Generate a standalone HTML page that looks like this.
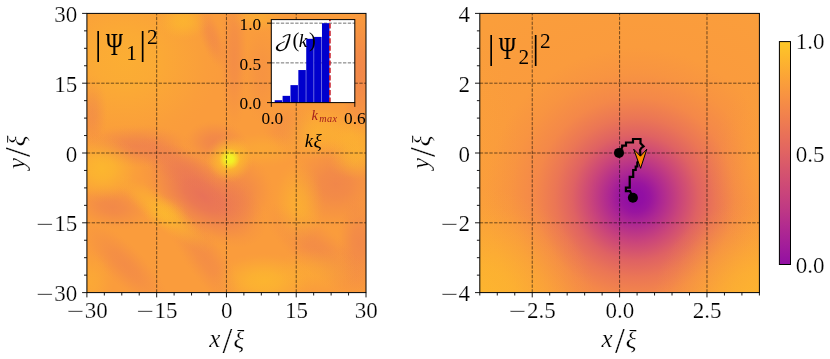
<!DOCTYPE html>
<html><head><meta charset="utf-8"><title>figure</title>
<style>html,body{margin:0;padding:0;background:#fff;overflow:hidden}svg{display:block}</style></head>
<body>
<svg width="830" height="359" viewBox="0 0 830 359">
<defs><clipPath id="cl"><rect x="86.9" y="13.4" width="279.10" height="279.20"/></clipPath><clipPath id="cr"><rect x="479.8" y="13.4" width="279.60" height="279.20"/></clipPath><radialGradient id="g1"><stop offset="0" stop-color="#e56a5d" stop-opacity="0.850"/><stop offset="0.3" stop-color="#e56a5d" stop-opacity="0.697"/><stop offset="0.6" stop-color="#e56a5d" stop-opacity="0.357"/><stop offset="0.85" stop-color="#e56a5d" stop-opacity="0.085"/><stop offset="1" stop-color="#e56a5d" stop-opacity="0.000"/></radialGradient><radialGradient id="g2"><stop offset="0" stop-color="#e56a5d" stop-opacity="0.340"/><stop offset="0.3" stop-color="#e56a5d" stop-opacity="0.279"/><stop offset="0.6" stop-color="#e56a5d" stop-opacity="0.143"/><stop offset="0.85" stop-color="#e56a5d" stop-opacity="0.034"/><stop offset="1" stop-color="#e56a5d" stop-opacity="0.000"/></radialGradient><radialGradient id="g3"><stop offset="0" stop-color="#e56a5d" stop-opacity="0.360"/><stop offset="0.3" stop-color="#e56a5d" stop-opacity="0.295"/><stop offset="0.6" stop-color="#e56a5d" stop-opacity="0.151"/><stop offset="0.85" stop-color="#e56a5d" stop-opacity="0.036"/><stop offset="1" stop-color="#e56a5d" stop-opacity="0.000"/></radialGradient><radialGradient id="g4"><stop offset="0" stop-color="#e56a5d" stop-opacity="0.420"/><stop offset="0.3" stop-color="#e56a5d" stop-opacity="0.344"/><stop offset="0.6" stop-color="#e56a5d" stop-opacity="0.176"/><stop offset="0.85" stop-color="#e56a5d" stop-opacity="0.042"/><stop offset="1" stop-color="#e56a5d" stop-opacity="0.000"/></radialGradient><radialGradient id="g5"><stop offset="0" stop-color="#e56a5d" stop-opacity="0.380"/><stop offset="0.3" stop-color="#e56a5d" stop-opacity="0.312"/><stop offset="0.6" stop-color="#e56a5d" stop-opacity="0.160"/><stop offset="0.85" stop-color="#e56a5d" stop-opacity="0.038"/><stop offset="1" stop-color="#e56a5d" stop-opacity="0.000"/></radialGradient><radialGradient id="g6"><stop offset="0" stop-color="#e56a5d" stop-opacity="0.380"/><stop offset="0.3" stop-color="#e56a5d" stop-opacity="0.312"/><stop offset="0.6" stop-color="#e56a5d" stop-opacity="0.160"/><stop offset="0.85" stop-color="#e56a5d" stop-opacity="0.038"/><stop offset="1" stop-color="#e56a5d" stop-opacity="0.000"/></radialGradient><radialGradient id="g7"><stop offset="0" stop-color="#e56a5d" stop-opacity="0.300"/><stop offset="0.3" stop-color="#e56a5d" stop-opacity="0.246"/><stop offset="0.6" stop-color="#e56a5d" stop-opacity="0.126"/><stop offset="0.85" stop-color="#e56a5d" stop-opacity="0.030"/><stop offset="1" stop-color="#e56a5d" stop-opacity="0.000"/></radialGradient><radialGradient id="g8"><stop offset="0" stop-color="#e56a5d" stop-opacity="0.280"/><stop offset="0.3" stop-color="#e56a5d" stop-opacity="0.230"/><stop offset="0.6" stop-color="#e56a5d" stop-opacity="0.118"/><stop offset="0.85" stop-color="#e56a5d" stop-opacity="0.028"/><stop offset="1" stop-color="#e56a5d" stop-opacity="0.000"/></radialGradient><radialGradient id="g9"><stop offset="0" stop-color="#e56a5d" stop-opacity="0.320"/><stop offset="0.3" stop-color="#e56a5d" stop-opacity="0.262"/><stop offset="0.6" stop-color="#e56a5d" stop-opacity="0.134"/><stop offset="0.85" stop-color="#e56a5d" stop-opacity="0.032"/><stop offset="1" stop-color="#e56a5d" stop-opacity="0.000"/></radialGradient><radialGradient id="g10"><stop offset="0" stop-color="#e56a5d" stop-opacity="0.300"/><stop offset="0.3" stop-color="#e56a5d" stop-opacity="0.246"/><stop offset="0.6" stop-color="#e56a5d" stop-opacity="0.126"/><stop offset="0.85" stop-color="#e56a5d" stop-opacity="0.030"/><stop offset="1" stop-color="#e56a5d" stop-opacity="0.000"/></radialGradient><radialGradient id="g11"><stop offset="0" stop-color="#e56a5d" stop-opacity="0.300"/><stop offset="0.3" stop-color="#e56a5d" stop-opacity="0.246"/><stop offset="0.6" stop-color="#e56a5d" stop-opacity="0.126"/><stop offset="0.85" stop-color="#e56a5d" stop-opacity="0.030"/><stop offset="1" stop-color="#e56a5d" stop-opacity="0.000"/></radialGradient><radialGradient id="g12"><stop offset="0" stop-color="#e56a5d" stop-opacity="0.380"/><stop offset="0.3" stop-color="#e56a5d" stop-opacity="0.312"/><stop offset="0.6" stop-color="#e56a5d" stop-opacity="0.160"/><stop offset="0.85" stop-color="#e56a5d" stop-opacity="0.038"/><stop offset="1" stop-color="#e56a5d" stop-opacity="0.000"/></radialGradient><radialGradient id="g13"><stop offset="0" stop-color="#e56a5d" stop-opacity="0.470"/><stop offset="0.3" stop-color="#e56a5d" stop-opacity="0.385"/><stop offset="0.6" stop-color="#e56a5d" stop-opacity="0.197"/><stop offset="0.85" stop-color="#e56a5d" stop-opacity="0.047"/><stop offset="1" stop-color="#e56a5d" stop-opacity="0.000"/></radialGradient><radialGradient id="g14"><stop offset="0" stop-color="#e56a5d" stop-opacity="0.420"/><stop offset="0.3" stop-color="#e56a5d" stop-opacity="0.344"/><stop offset="0.6" stop-color="#e56a5d" stop-opacity="0.176"/><stop offset="0.85" stop-color="#e56a5d" stop-opacity="0.042"/><stop offset="1" stop-color="#e56a5d" stop-opacity="0.000"/></radialGradient><radialGradient id="g15"><stop offset="0" stop-color="#e56a5d" stop-opacity="0.420"/><stop offset="0.3" stop-color="#e56a5d" stop-opacity="0.344"/><stop offset="0.6" stop-color="#e56a5d" stop-opacity="0.176"/><stop offset="0.85" stop-color="#e56a5d" stop-opacity="0.042"/><stop offset="1" stop-color="#e56a5d" stop-opacity="0.000"/></radialGradient><radialGradient id="g16"><stop offset="0" stop-color="#e56a5d" stop-opacity="0.260"/><stop offset="0.3" stop-color="#e56a5d" stop-opacity="0.213"/><stop offset="0.6" stop-color="#e56a5d" stop-opacity="0.109"/><stop offset="0.85" stop-color="#e56a5d" stop-opacity="0.026"/><stop offset="1" stop-color="#e56a5d" stop-opacity="0.000"/></radialGradient><radialGradient id="g17"><stop offset="0" stop-color="#e56a5d" stop-opacity="0.170"/><stop offset="0.3" stop-color="#e56a5d" stop-opacity="0.139"/><stop offset="0.6" stop-color="#e56a5d" stop-opacity="0.071"/><stop offset="0.85" stop-color="#e56a5d" stop-opacity="0.017"/><stop offset="1" stop-color="#e56a5d" stop-opacity="0.000"/></radialGradient><radialGradient id="g18"><stop offset="0" stop-color="#fdc229" stop-opacity="0.690"/><stop offset="0.3" stop-color="#fdc229" stop-opacity="0.566"/><stop offset="0.6" stop-color="#fdc229" stop-opacity="0.290"/><stop offset="0.85" stop-color="#fdc229" stop-opacity="0.069"/><stop offset="1" stop-color="#fdc229" stop-opacity="0.000"/></radialGradient><radialGradient id="g19"><stop offset="0" stop-color="#fdc229" stop-opacity="0.550"/><stop offset="0.3" stop-color="#fdc229" stop-opacity="0.451"/><stop offset="0.6" stop-color="#fdc229" stop-opacity="0.231"/><stop offset="0.85" stop-color="#fdc229" stop-opacity="0.055"/><stop offset="1" stop-color="#fdc229" stop-opacity="0.000"/></radialGradient><radialGradient id="g20"><stop offset="0" stop-color="#fdc229" stop-opacity="0.280"/><stop offset="0.3" stop-color="#fdc229" stop-opacity="0.230"/><stop offset="0.6" stop-color="#fdc229" stop-opacity="0.118"/><stop offset="0.85" stop-color="#fdc229" stop-opacity="0.028"/><stop offset="1" stop-color="#fdc229" stop-opacity="0.000"/></radialGradient><radialGradient id="g21"><stop offset="0" stop-color="#fdc229" stop-opacity="0.460"/><stop offset="0.3" stop-color="#fdc229" stop-opacity="0.377"/><stop offset="0.6" stop-color="#fdc229" stop-opacity="0.193"/><stop offset="0.85" stop-color="#fdc229" stop-opacity="0.046"/><stop offset="1" stop-color="#fdc229" stop-opacity="0.000"/></radialGradient><radialGradient id="g22"><stop offset="0" stop-color="#fdc229" stop-opacity="0.410"/><stop offset="0.3" stop-color="#fdc229" stop-opacity="0.336"/><stop offset="0.6" stop-color="#fdc229" stop-opacity="0.172"/><stop offset="0.85" stop-color="#fdc229" stop-opacity="0.041"/><stop offset="1" stop-color="#fdc229" stop-opacity="0.000"/></radialGradient><radialGradient id="g23"><stop offset="0" stop-color="#fdc229" stop-opacity="0.640"/><stop offset="0.3" stop-color="#fdc229" stop-opacity="0.525"/><stop offset="0.6" stop-color="#fdc229" stop-opacity="0.269"/><stop offset="0.85" stop-color="#fdc229" stop-opacity="0.064"/><stop offset="1" stop-color="#fdc229" stop-opacity="0.000"/></radialGradient><radialGradient id="g24"><stop offset="0" stop-color="#fdc229" stop-opacity="0.280"/><stop offset="0.3" stop-color="#fdc229" stop-opacity="0.230"/><stop offset="0.6" stop-color="#fdc229" stop-opacity="0.118"/><stop offset="0.85" stop-color="#fdc229" stop-opacity="0.028"/><stop offset="1" stop-color="#fdc229" stop-opacity="0.000"/></radialGradient><radialGradient id="g25"><stop offset="0" stop-color="#fdc229" stop-opacity="0.320"/><stop offset="0.3" stop-color="#fdc229" stop-opacity="0.262"/><stop offset="0.6" stop-color="#fdc229" stop-opacity="0.134"/><stop offset="0.85" stop-color="#fdc229" stop-opacity="0.032"/><stop offset="1" stop-color="#fdc229" stop-opacity="0.000"/></radialGradient><radialGradient id="g26"><stop offset="0" stop-color="#fdc229" stop-opacity="0.460"/><stop offset="0.3" stop-color="#fdc229" stop-opacity="0.377"/><stop offset="0.6" stop-color="#fdc229" stop-opacity="0.193"/><stop offset="0.85" stop-color="#fdc229" stop-opacity="0.046"/><stop offset="1" stop-color="#fdc229" stop-opacity="0.000"/></radialGradient><radialGradient id="g27"><stop offset="0" stop-color="#fdc229" stop-opacity="0.550"/><stop offset="0.3" stop-color="#fdc229" stop-opacity="0.451"/><stop offset="0.6" stop-color="#fdc229" stop-opacity="0.231"/><stop offset="0.85" stop-color="#fdc229" stop-opacity="0.055"/><stop offset="1" stop-color="#fdc229" stop-opacity="0.000"/></radialGradient><radialGradient id="g28"><stop offset="0" stop-color="#fdc229" stop-opacity="0.460"/><stop offset="0.3" stop-color="#fdc229" stop-opacity="0.377"/><stop offset="0.6" stop-color="#fdc229" stop-opacity="0.193"/><stop offset="0.85" stop-color="#fdc229" stop-opacity="0.046"/><stop offset="1" stop-color="#fdc229" stop-opacity="0.000"/></radialGradient><radialGradient id="g29"><stop offset="0" stop-color="#fdc229" stop-opacity="0.460"/><stop offset="0.3" stop-color="#fdc229" stop-opacity="0.377"/><stop offset="0.6" stop-color="#fdc229" stop-opacity="0.193"/><stop offset="0.85" stop-color="#fdc229" stop-opacity="0.046"/><stop offset="1" stop-color="#fdc229" stop-opacity="0.000"/></radialGradient><radialGradient id="g30"><stop offset="0" stop-color="#fdc229" stop-opacity="0.370"/><stop offset="0.3" stop-color="#fdc229" stop-opacity="0.303"/><stop offset="0.6" stop-color="#fdc229" stop-opacity="0.155"/><stop offset="0.85" stop-color="#fdc229" stop-opacity="0.037"/><stop offset="1" stop-color="#fdc229" stop-opacity="0.000"/></radialGradient><radialGradient id="g31"><stop offset="0" stop-color="#fdc229" stop-opacity="0.280"/><stop offset="0.3" stop-color="#fdc229" stop-opacity="0.230"/><stop offset="0.6" stop-color="#fdc229" stop-opacity="0.118"/><stop offset="0.85" stop-color="#fdc229" stop-opacity="0.028"/><stop offset="1" stop-color="#fdc229" stop-opacity="0.000"/></radialGradient><radialGradient id="g32"><stop offset="0" stop-color="#fdc627" stop-opacity="0.900"/><stop offset="0.3" stop-color="#fdc627" stop-opacity="0.738"/><stop offset="0.6" stop-color="#fdc627" stop-opacity="0.378"/><stop offset="0.85" stop-color="#fdc627" stop-opacity="0.090"/><stop offset="1" stop-color="#fdc627" stop-opacity="0.000"/></radialGradient><radialGradient id="g33"><stop offset="0" stop-color="#f1f426" stop-opacity="1.000"/><stop offset="0.35" stop-color="#f1f426" stop-opacity="0.920"/><stop offset="0.7" stop-color="#f1f426" stop-opacity="0.400"/><stop offset="1" stop-color="#f1f426" stop-opacity="0.000"/></radialGradient><radialGradient id="vort" gradientUnits="userSpaceOnUse" cx="635.3" cy="197.5" r="230.0"><stop offset="0.0000" stop-color="#8f0da4"/><stop offset="0.0348" stop-color="#920fa3"/><stop offset="0.0652" stop-color="#99159f"/><stop offset="0.1130" stop-color="#ad2793"/><stop offset="0.1957" stop-color="#ca457a"/><stop offset="0.2739" stop-color="#df6263"/><stop offset="0.3478" stop-color="#eb7655"/><stop offset="0.4348" stop-color="#f48849"/><stop offset="0.5435" stop-color="#f89441"/><stop offset="0.6522" stop-color="#fa9b3d"/><stop offset="1.0000" stop-color="#fa9e3b"/></radialGradient><radialGradient id="g34"><stop offset="0" stop-color="#febe2a" stop-opacity="0.750"/><stop offset="0.3" stop-color="#febe2a" stop-opacity="0.615"/><stop offset="0.6" stop-color="#febe2a" stop-opacity="0.315"/><stop offset="0.85" stop-color="#febe2a" stop-opacity="0.075"/><stop offset="1" stop-color="#febe2a" stop-opacity="0.000"/></radialGradient><radialGradient id="g35"><stop offset="0" stop-color="#febe2a" stop-opacity="0.700"/><stop offset="0.3" stop-color="#febe2a" stop-opacity="0.574"/><stop offset="0.6" stop-color="#febe2a" stop-opacity="0.294"/><stop offset="0.85" stop-color="#febe2a" stop-opacity="0.070"/><stop offset="1" stop-color="#febe2a" stop-opacity="0.000"/></radialGradient><radialGradient id="g36"><stop offset="0" stop-color="#fdae32" stop-opacity="0.400"/><stop offset="0.3" stop-color="#fdae32" stop-opacity="0.328"/><stop offset="0.6" stop-color="#fdae32" stop-opacity="0.168"/><stop offset="0.85" stop-color="#fdae32" stop-opacity="0.040"/><stop offset="1" stop-color="#fdae32" stop-opacity="0.000"/></radialGradient><radialGradient id="g37"><stop offset="0" stop-color="#fca636" stop-opacity="0.300"/><stop offset="0.3" stop-color="#fca636" stop-opacity="0.246"/><stop offset="0.6" stop-color="#fca636" stop-opacity="0.126"/><stop offset="0.85" stop-color="#fca636" stop-opacity="0.030"/><stop offset="1" stop-color="#fca636" stop-opacity="0.000"/></radialGradient><linearGradient id="cb" x1="0" y1="0" x2="0" y2="1"><stop offset="0.000" stop-color="#fdc827"/><stop offset="0.083" stop-color="#fdb52e"/><stop offset="0.167" stop-color="#fba238"/><stop offset="0.250" stop-color="#f79143"/><stop offset="0.333" stop-color="#f1814d"/><stop offset="0.417" stop-color="#e97158"/><stop offset="0.500" stop-color="#e06363"/><stop offset="0.583" stop-color="#d5546e"/><stop offset="0.667" stop-color="#cb4679"/><stop offset="0.750" stop-color="#bf3984"/><stop offset="0.833" stop-color="#b12a90"/><stop offset="0.917" stop-color="#a21d9a"/><stop offset="1.000" stop-color="#920fa3"/></linearGradient></defs>
<rect width="830" height="359" fill="#fff"/>
<g font-family="'Liberation Serif',serif" fill="#000">
<g clip-path="url(#cl)">
<rect x="86.9" y="13.4" width="279.10" height="279.20" fill="#fa9c3c"/>
<ellipse cx="203.0" cy="196.0" rx="72.0" ry="38.0" fill="url(#g1)" transform="rotate(35 203.0 196.0)"/>
<ellipse cx="176.0" cy="163.0" rx="44.0" ry="20.0" fill="url(#g2)" transform="rotate(25 176.0 163.0)"/>
<ellipse cx="242.0" cy="192.0" rx="32.0" ry="36.0" fill="url(#g3)"/>
<ellipse cx="335.6" cy="184.0" rx="48.0" ry="44.0" fill="url(#g4)"/>
<ellipse cx="359.0" cy="243.0" rx="22.0" ry="48.0" fill="url(#g5)"/>
<ellipse cx="112.0" cy="207.0" rx="40.0" ry="22.0" fill="url(#g6)" transform="rotate(10 112.0 207.0)"/>
<ellipse cx="125.0" cy="265.0" rx="60.0" ry="20.0" fill="url(#g7)" transform="rotate(45 125.0 265.0)"/>
<ellipse cx="205.0" cy="258.0" rx="64.0" ry="20.0" fill="url(#g8)" transform="rotate(55 205.0 258.0)"/>
<ellipse cx="320.0" cy="252.0" rx="72.0" ry="24.0" fill="url(#g9)" transform="rotate(40 320.0 252.0)"/>
<ellipse cx="212.0" cy="38.0" rx="12.0" ry="34.0" fill="url(#g10)" transform="rotate(-20 212.0 38.0)"/>
<ellipse cx="234.0" cy="56.0" rx="14.0" ry="76.0" fill="url(#g11)"/>
<ellipse cx="92.0" cy="110.0" rx="16.0" ry="36.0" fill="url(#g12)"/>
<ellipse cx="137.0" cy="146.0" rx="56.0" ry="22.0" fill="url(#g13)"/>
<ellipse cx="215.0" cy="142.0" rx="32.0" ry="22.0" fill="url(#g14)"/>
<ellipse cx="360.0" cy="72.0" rx="20.0" ry="68.0" fill="url(#g15)"/>
<ellipse cx="290.0" cy="128.0" rx="28.0" ry="24.0" fill="url(#g16)"/>
<ellipse cx="262.0" cy="75.0" rx="20.0" ry="50.0" fill="url(#g17)"/>
<ellipse cx="101.6" cy="168.6" rx="40.0" ry="34.0" fill="url(#g18)"/>
<ellipse cx="165.0" cy="214.0" rx="60.0" ry="16.0" fill="url(#g19)" transform="rotate(38 165.0 214.0)"/>
<ellipse cx="166.0" cy="213.0" rx="24.0" ry="18.0" fill="url(#g20)"/>
<ellipse cx="298.6" cy="203.7" rx="26.0" ry="44.0" fill="url(#g21)"/>
<ellipse cx="355.0" cy="161.0" rx="28.0" ry="20.0" fill="url(#g22)"/>
<ellipse cx="264.0" cy="281.0" rx="52.0" ry="28.0" fill="url(#g23)"/>
<ellipse cx="320.0" cy="270.0" rx="44.0" ry="24.0" fill="url(#g24)"/>
<ellipse cx="90.0" cy="282.0" rx="24.0" ry="32.0" fill="url(#g25)"/>
<ellipse cx="125.0" cy="60.0" rx="96.0" ry="88.0" fill="url(#g26)"/>
<ellipse cx="183.5" cy="20.8" rx="26.0" ry="20.0" fill="url(#g27)"/>
<ellipse cx="355.0" cy="142.0" rx="32.0" ry="26.0" fill="url(#g28)"/>
<ellipse cx="318.0" cy="132.0" rx="44.0" ry="28.0" fill="url(#g29)"/>
<ellipse cx="257.6" cy="17.0" rx="28.0" ry="16.0" fill="url(#g30)"/>
<ellipse cx="262.0" cy="150.0" rx="40.0" ry="18.0" fill="url(#g31)"/>
<ellipse cx="229.4" cy="158.8" rx="24.0" ry="24.0" fill="url(#g32)"/>
<ellipse cx="229.6" cy="159.0" rx="10.5" ry="10.5" fill="url(#g33)"/>
</g>
<g clip-path="url(#cr)">
<rect x="479.8" y="13.4" width="279.60" height="279.20" fill="url(#vort)"/>
<ellipse cx="474.8" cy="297.6" rx="120.0" ry="110.0" fill="url(#g34)"/>
<ellipse cx="764.4" cy="297.6" rx="110.0" ry="100.0" fill="url(#g35)"/>
<ellipse cx="769.4" cy="170.4" rx="60.0" ry="90.0" fill="url(#g36)"/>
<ellipse cx="469.8" cy="153.0" rx="50.0" ry="120.0" fill="url(#g37)"/>
</g>
<line x1="156.68" y1="292.6" x2="156.68" y2="13.4" stroke="#000" stroke-opacity="0.62" stroke-width="0.9" stroke-dasharray="3.34 1.44" fill="none"/>
<line x1="86.9" y1="222.80" x2="366.0" y2="222.80" stroke="#000" stroke-opacity="0.62" stroke-width="0.9" stroke-dasharray="3.34 1.44" fill="none"/>
<line x1="226.45" y1="292.6" x2="226.45" y2="13.4" stroke="#000" stroke-opacity="0.62" stroke-width="0.9" stroke-dasharray="3.34 1.44" fill="none"/>
<line x1="86.9" y1="153.00" x2="366.0" y2="153.00" stroke="#000" stroke-opacity="0.62" stroke-width="0.9" stroke-dasharray="3.34 1.44" fill="none"/>
<line x1="296.23" y1="292.6" x2="296.23" y2="13.4" stroke="#000" stroke-opacity="0.62" stroke-width="0.9" stroke-dasharray="3.34 1.44" fill="none"/>
<line x1="86.9" y1="83.20" x2="366.0" y2="83.20" stroke="#000" stroke-opacity="0.62" stroke-width="0.9" stroke-dasharray="3.34 1.44" fill="none"/>
<line x1="532.23" y1="292.6" x2="532.23" y2="13.4" stroke="#000" stroke-opacity="0.62" stroke-width="0.9" stroke-dasharray="3.34 1.44" fill="none"/>
<line x1="619.60" y1="292.6" x2="619.60" y2="13.4" stroke="#000" stroke-opacity="0.62" stroke-width="0.9" stroke-dasharray="3.34 1.44" fill="none"/>
<line x1="706.98" y1="292.6" x2="706.98" y2="13.4" stroke="#000" stroke-opacity="0.62" stroke-width="0.9" stroke-dasharray="3.34 1.44" fill="none"/>
<line x1="479.8" y1="222.80" x2="759.4" y2="222.80" stroke="#000" stroke-opacity="0.62" stroke-width="0.9" stroke-dasharray="3.34 1.44" fill="none"/>
<line x1="479.8" y1="153.00" x2="759.4" y2="153.00" stroke="#000" stroke-opacity="0.62" stroke-width="0.9" stroke-dasharray="3.34 1.44" fill="none"/>
<line x1="479.8" y1="83.20" x2="759.4" y2="83.20" stroke="#000" stroke-opacity="0.62" stroke-width="0.9" stroke-dasharray="3.34 1.44" fill="none"/>
<line x1="86.90" y1="292.6" x2="86.90" y2="297.40000000000003" stroke="#000" stroke-width="0.9"/>
<line x1="86.9" y1="292.60" x2="82.10000000000001" y2="292.60" stroke="#000" stroke-width="0.9"/>
<line x1="104.34" y1="292.6" x2="104.34" y2="295.5" stroke="#000" stroke-width="0.9"/>
<line x1="86.9" y1="275.15" x2="84.0" y2="275.15" stroke="#000" stroke-width="0.9"/>
<line x1="121.79" y1="292.6" x2="121.79" y2="295.5" stroke="#000" stroke-width="0.9"/>
<line x1="86.9" y1="257.70" x2="84.0" y2="257.70" stroke="#000" stroke-width="0.9"/>
<line x1="139.23" y1="292.6" x2="139.23" y2="295.5" stroke="#000" stroke-width="0.9"/>
<line x1="86.9" y1="240.25" x2="84.0" y2="240.25" stroke="#000" stroke-width="0.9"/>
<line x1="156.68" y1="292.6" x2="156.68" y2="297.40000000000003" stroke="#000" stroke-width="0.9"/>
<line x1="86.9" y1="222.80" x2="82.10000000000001" y2="222.80" stroke="#000" stroke-width="0.9"/>
<line x1="174.12" y1="292.6" x2="174.12" y2="295.5" stroke="#000" stroke-width="0.9"/>
<line x1="86.9" y1="205.35" x2="84.0" y2="205.35" stroke="#000" stroke-width="0.9"/>
<line x1="191.56" y1="292.6" x2="191.56" y2="295.5" stroke="#000" stroke-width="0.9"/>
<line x1="86.9" y1="187.90" x2="84.0" y2="187.90" stroke="#000" stroke-width="0.9"/>
<line x1="209.01" y1="292.6" x2="209.01" y2="295.5" stroke="#000" stroke-width="0.9"/>
<line x1="86.9" y1="170.45" x2="84.0" y2="170.45" stroke="#000" stroke-width="0.9"/>
<line x1="226.45" y1="292.6" x2="226.45" y2="297.40000000000003" stroke="#000" stroke-width="0.9"/>
<line x1="86.9" y1="153.00" x2="82.10000000000001" y2="153.00" stroke="#000" stroke-width="0.9"/>
<line x1="243.89" y1="292.6" x2="243.89" y2="295.5" stroke="#000" stroke-width="0.9"/>
<line x1="86.9" y1="135.55" x2="84.0" y2="135.55" stroke="#000" stroke-width="0.9"/>
<line x1="261.34" y1="292.6" x2="261.34" y2="295.5" stroke="#000" stroke-width="0.9"/>
<line x1="86.9" y1="118.10" x2="84.0" y2="118.10" stroke="#000" stroke-width="0.9"/>
<line x1="278.78" y1="292.6" x2="278.78" y2="295.5" stroke="#000" stroke-width="0.9"/>
<line x1="86.9" y1="100.65" x2="84.0" y2="100.65" stroke="#000" stroke-width="0.9"/>
<line x1="296.23" y1="292.6" x2="296.23" y2="297.40000000000003" stroke="#000" stroke-width="0.9"/>
<line x1="86.9" y1="83.20" x2="82.10000000000001" y2="83.20" stroke="#000" stroke-width="0.9"/>
<line x1="313.67" y1="292.6" x2="313.67" y2="295.5" stroke="#000" stroke-width="0.9"/>
<line x1="86.9" y1="65.75" x2="84.0" y2="65.75" stroke="#000" stroke-width="0.9"/>
<line x1="331.11" y1="292.6" x2="331.11" y2="295.5" stroke="#000" stroke-width="0.9"/>
<line x1="86.9" y1="48.30" x2="84.0" y2="48.30" stroke="#000" stroke-width="0.9"/>
<line x1="348.56" y1="292.6" x2="348.56" y2="295.5" stroke="#000" stroke-width="0.9"/>
<line x1="86.9" y1="30.85" x2="84.0" y2="30.85" stroke="#000" stroke-width="0.9"/>
<line x1="366.00" y1="292.6" x2="366.00" y2="297.40000000000003" stroke="#000" stroke-width="0.9"/>
<line x1="86.9" y1="13.40" x2="82.10000000000001" y2="13.40" stroke="#000" stroke-width="0.9"/>
<line x1="479.80" y1="292.6" x2="479.80" y2="295.5" stroke="#000" stroke-width="0.9"/>
<line x1="479.8" y1="292.60" x2="475.0" y2="292.60" stroke="#000" stroke-width="0.9"/>
<line x1="497.28" y1="292.6" x2="497.28" y2="295.5" stroke="#000" stroke-width="0.9"/>
<line x1="479.8" y1="275.15" x2="476.90000000000003" y2="275.15" stroke="#000" stroke-width="0.9"/>
<line x1="514.75" y1="292.6" x2="514.75" y2="295.5" stroke="#000" stroke-width="0.9"/>
<line x1="479.8" y1="257.70" x2="476.90000000000003" y2="257.70" stroke="#000" stroke-width="0.9"/>
<line x1="532.23" y1="292.6" x2="532.23" y2="297.40000000000003" stroke="#000" stroke-width="0.9"/>
<line x1="479.8" y1="240.25" x2="476.90000000000003" y2="240.25" stroke="#000" stroke-width="0.9"/>
<line x1="549.70" y1="292.6" x2="549.70" y2="295.5" stroke="#000" stroke-width="0.9"/>
<line x1="479.8" y1="222.80" x2="475.0" y2="222.80" stroke="#000" stroke-width="0.9"/>
<line x1="567.17" y1="292.6" x2="567.17" y2="295.5" stroke="#000" stroke-width="0.9"/>
<line x1="479.8" y1="205.35" x2="476.90000000000003" y2="205.35" stroke="#000" stroke-width="0.9"/>
<line x1="584.65" y1="292.6" x2="584.65" y2="295.5" stroke="#000" stroke-width="0.9"/>
<line x1="479.8" y1="187.90" x2="476.90000000000003" y2="187.90" stroke="#000" stroke-width="0.9"/>
<line x1="602.12" y1="292.6" x2="602.12" y2="295.5" stroke="#000" stroke-width="0.9"/>
<line x1="479.8" y1="170.45" x2="476.90000000000003" y2="170.45" stroke="#000" stroke-width="0.9"/>
<line x1="619.60" y1="292.6" x2="619.60" y2="297.40000000000003" stroke="#000" stroke-width="0.9"/>
<line x1="479.8" y1="153.00" x2="475.0" y2="153.00" stroke="#000" stroke-width="0.9"/>
<line x1="637.08" y1="292.6" x2="637.08" y2="295.5" stroke="#000" stroke-width="0.9"/>
<line x1="479.8" y1="135.55" x2="476.90000000000003" y2="135.55" stroke="#000" stroke-width="0.9"/>
<line x1="654.55" y1="292.6" x2="654.55" y2="295.5" stroke="#000" stroke-width="0.9"/>
<line x1="479.8" y1="118.10" x2="476.90000000000003" y2="118.10" stroke="#000" stroke-width="0.9"/>
<line x1="672.02" y1="292.6" x2="672.02" y2="295.5" stroke="#000" stroke-width="0.9"/>
<line x1="479.8" y1="100.65" x2="476.90000000000003" y2="100.65" stroke="#000" stroke-width="0.9"/>
<line x1="689.50" y1="292.6" x2="689.50" y2="295.5" stroke="#000" stroke-width="0.9"/>
<line x1="479.8" y1="83.20" x2="475.0" y2="83.20" stroke="#000" stroke-width="0.9"/>
<line x1="706.98" y1="292.6" x2="706.98" y2="297.40000000000003" stroke="#000" stroke-width="0.9"/>
<line x1="479.8" y1="65.75" x2="476.90000000000003" y2="65.75" stroke="#000" stroke-width="0.9"/>
<line x1="724.45" y1="292.6" x2="724.45" y2="295.5" stroke="#000" stroke-width="0.9"/>
<line x1="479.8" y1="48.30" x2="476.90000000000003" y2="48.30" stroke="#000" stroke-width="0.9"/>
<line x1="741.92" y1="292.6" x2="741.92" y2="295.5" stroke="#000" stroke-width="0.9"/>
<line x1="479.8" y1="30.85" x2="476.90000000000003" y2="30.85" stroke="#000" stroke-width="0.9"/>
<line x1="759.40" y1="292.6" x2="759.40" y2="295.5" stroke="#000" stroke-width="0.9"/>
<line x1="479.8" y1="13.40" x2="475.0" y2="13.40" stroke="#000" stroke-width="0.9"/>
<rect x="86.9" y="13.4" width="279.10" height="279.20" fill="none" stroke="#000" stroke-width="1"/>
<rect x="479.8" y="13.4" width="279.60" height="279.20" fill="none" stroke="#000" stroke-width="1"/>
<text stroke="#fff" stroke-width="0.22"><tspan x="66.71" y="319.04" font-size="23.00" textLength="17.45" lengthAdjust="spacingAndGlyphs">−</tspan><tspan x="84.65" y="318.00" font-size="23.00">30</tspan></text>
<text stroke="#fff" stroke-width="0.22"><tspan x="36.21" y="302.24" font-size="23.00" textLength="17.45" lengthAdjust="spacingAndGlyphs">−</tspan><tspan x="54.15" y="301.20" font-size="23.00">30</tspan></text>
<text stroke="#fff" stroke-width="0.22"><tspan x="136.48" y="319.04" font-size="23.00" textLength="17.45" lengthAdjust="spacingAndGlyphs">−</tspan><tspan x="154.43" y="318.00" font-size="23.00">15</tspan></text>
<text stroke="#fff" stroke-width="0.22"><tspan x="36.21" y="232.44" font-size="23.00" textLength="17.45" lengthAdjust="spacingAndGlyphs">−</tspan><tspan x="54.15" y="231.40" font-size="23.00">15</tspan></text>
<text stroke="#fff" stroke-width="0.22"><tspan x="220.90" y="318.00" font-size="23.00">0</tspan></text>
<text stroke="#fff" stroke-width="0.22"><tspan x="65.72" y="161.60" font-size="23.00">0</tspan></text>
<text stroke="#fff" stroke-width="0.22"><tspan x="284.93" y="318.00" font-size="23.00">15</tspan></text>
<text stroke="#fff" stroke-width="0.22"><tspan x="54.15" y="91.80" font-size="23.00">15</tspan></text>
<text stroke="#fff" stroke-width="0.22"><tspan x="354.70" y="318.00" font-size="23.00">30</tspan></text>
<text stroke="#fff" stroke-width="0.22"><tspan x="54.15" y="22.00" font-size="23.00">30</tspan></text>
<text stroke="#fff" stroke-width="0.22"><tspan x="508.78" y="319.04" font-size="23.00" textLength="17.45" lengthAdjust="spacingAndGlyphs">−</tspan><tspan x="527.10" y="318.00" font-size="23.00">2.5</tspan></text>
<text stroke="#fff" stroke-width="0.22"><tspan x="605.43" y="318.00" font-size="23.00">0.0</tspan></text>
<text stroke="#fff" stroke-width="0.22"><tspan x="692.80" y="318.00" font-size="23.00">2.5</tspan></text>
<text stroke="#fff" stroke-width="0.22"><tspan x="440.66" y="302.24" font-size="23.00" textLength="17.45" lengthAdjust="spacingAndGlyphs">−</tspan><tspan x="458.53" y="301.20" font-size="23.00">4</tspan></text>
<text stroke="#fff" stroke-width="0.22"><tspan x="440.66" y="232.44" font-size="23.00" textLength="17.45" lengthAdjust="spacingAndGlyphs">−</tspan><tspan x="458.53" y="231.40" font-size="23.00">2</tspan></text>
<text stroke="#fff" stroke-width="0.22"><tspan x="458.53" y="161.60" font-size="23.00">0</tspan></text>
<text stroke="#fff" stroke-width="0.22"><tspan x="458.53" y="91.80" font-size="23.00">2</tspan></text>
<text stroke="#fff" stroke-width="0.22"><tspan x="458.53" y="22.00" font-size="23.00">4</tspan></text>
<text stroke="#fff" stroke-width="0.22"><tspan x="209.21" y="347.40" font-size="25.00" font-style="italic">x</tspan><tspan x="222.50" y="352.70" font-size="36.62" textLength="9.80" lengthAdjust="spacingAndGlyphs">/</tspan><tspan x="233.45" y="348.00" font-size="25.00" font-style="italic">ξ</tspan></text>
<text stroke="#fff" stroke-width="0.22"><tspan x="601.61" y="347.40" font-size="25.00" font-style="italic">x</tspan><tspan x="614.90" y="352.70" font-size="36.62" textLength="9.80" lengthAdjust="spacingAndGlyphs">/</tspan><tspan x="625.85" y="348.00" font-size="25.00" font-style="italic">ξ</tspan></text>
<text transform="translate(24.6 152.8) rotate(-90)" stroke="#fff" stroke-width="0.22"><tspan x="-16.21" y="0.00" font-size="25.00" font-style="italic">y</tspan><tspan x="-4.30" y="5.30" font-size="36.62" textLength="9.80" lengthAdjust="spacingAndGlyphs">/</tspan><tspan x="6.65" y="0.60" font-size="25.00" font-style="italic">ξ</tspan></text>
<text transform="translate(429.3 152.8) rotate(-90)" stroke="#fff" stroke-width="0.22"><tspan x="-16.21" y="0.00" font-size="25.00" font-style="italic">y</tspan><tspan x="-4.30" y="5.30" font-size="36.62" textLength="9.80" lengthAdjust="spacingAndGlyphs">/</tspan><tspan x="6.65" y="0.60" font-size="25.00" font-style="italic">ξ</tspan></text>
<text><tspan x="94.64" y="55.10" font-size="34.07">|</tspan><tspan x="105.83" y="54.80" font-size="32.37" textLength="17.23" lengthAdjust="spacingAndGlyphs">Ψ</tspan><tspan x="126.13" y="60.10" font-size="21.30">1</tspan><tspan x="139.14" y="55.10" font-size="34.07">|</tspan><tspan x="147.06" y="43.80" font-size="21.30">2</tspan></text>
<text><tspan x="487.64" y="58.80" font-size="34.07">|</tspan><tspan x="498.83" y="58.50" font-size="32.37" textLength="17.23" lengthAdjust="spacingAndGlyphs">Ψ</tspan><tspan x="518.46" y="63.80" font-size="21.30">2</tspan><tspan x="532.14" y="58.80" font-size="34.07">|</tspan><tspan x="540.06" y="47.50" font-size="21.30">2</tspan></text>
<rect x="271.3" y="19.6" width="83.50" height="83.00" fill="#fff"/>
<line x1="271.3" y1="62.89" x2="354.8" y2="62.89" stroke="#000" stroke-opacity="0.62" stroke-width="0.9" stroke-dasharray="3.34 1.44"/>
<line x1="271.3" y1="23.17" x2="354.8" y2="23.17" stroke="#000" stroke-opacity="0.62" stroke-width="0.9" stroke-dasharray="3.34 1.44"/>
<rect x="274.70" y="100.22" width="7.48" height="2.38" fill="#0000cd"/>
<rect x="282.58" y="95.85" width="7.48" height="6.75" fill="#0000cd"/>
<rect x="290.46" y="85.13" width="7.48" height="17.47" fill="#0000cd"/>
<rect x="298.34" y="70.04" width="7.48" height="32.56" fill="#0000cd"/>
<rect x="306.22" y="38.82" width="7.48" height="63.78" fill="#0000cd"/>
<rect x="314.10" y="36.91" width="7.48" height="65.69" fill="#0000cd"/>
<rect x="321.98" y="23.17" width="7.48" height="79.43" fill="#0000cd"/>
<line x1="329.9" y1="102.6" x2="329.9" y2="19.6" stroke="#c8202c" stroke-width="1.7" stroke-dasharray="5.2 2.2"/>
<rect x="271.3" y="19.6" width="83.50" height="83.00" fill="none" stroke="#000" stroke-width="1"/>
<line x1="271.30" y1="102.6" x2="271.30" y2="106.89999999999999" stroke="#000" stroke-width="0.9"/>
<line x1="354.80" y1="102.6" x2="354.80" y2="106.89999999999999" stroke="#000" stroke-width="0.9"/>
<line x1="271.3" y1="102.60" x2="267.0" y2="102.60" stroke="#000" stroke-width="0.9"/>
<line x1="271.3" y1="62.89" x2="267.0" y2="62.89" stroke="#000" stroke-width="0.9"/>
<line x1="271.3" y1="23.17" x2="267.0" y2="23.17" stroke="#000" stroke-width="0.9"/>
<text><tspan x="239.61" y="109.30" font-size="17.30">0.0</tspan></text>
<text><tspan x="239.61" y="69.59" font-size="17.30">0.5</tspan></text>
<text><tspan x="239.61" y="29.87" font-size="17.30">1.0</tspan></text>
<text><tspan x="261.49" y="124.20" font-size="17.30">0.0</tspan></text>
<text><tspan x="344.09" y="124.20" font-size="17.30">0.6</tspan></text>
<text fill="#a31d1d"><tspan x="311.59" y="119.70" font-size="14.40" font-style="italic">k</tspan><tspan x="319.23" y="121.60" font-size="10.20" font-style="italic" letter-spacing="0.45">max</tspan></text>
<text><tspan x="304.66" y="146.70" font-size="18.60" font-style="italic">k</tspan><tspan x="313.53" y="147.30" font-size="19.50" font-style="italic">ξ</tspan></text>
<text><tspan x="274.07" y="46.60" font-size="16.00" font-family="'DejaVu Math TeX Gyre','Liberation Serif',serif" textLength="18.36" lengthAdjust="spacingAndGlyphs">𝒥</tspan><tspan x="292.40" y="46.90" font-size="20.50">(</tspan><tspan x="298.85" y="46.70" font-size="19.20" font-style="italic">k</tspan><tspan x="309.04" y="46.90" font-size="20.50">)</tspan></text>
<polyline points="619.0,152.9 622.2,147.5 622.2,145.7 626.0,145.7 626.0,142.5 633.0,142.5 633.0,139.0 640.5,139.0 640.5,143.2 643.6,146.3 641.4,148.0 640.1,150.0 640.5,157.0" fill="none" stroke="#000" stroke-width="2.2" stroke-linejoin="miter"/>
<polyline points="639.0,160.5 637.3,162.5 637.3,166.5 635.7,166.5 635.7,170.0 633.2,170.0 633.2,176.9 629.7,176.9 629.7,187.6 625.9,187.6 625.9,191.1 630.0,191.1 632.9,197.6" fill="none" stroke="#000" stroke-width="2.2" stroke-linejoin="miter"/>
<circle cx="619.0" cy="152.9" r="5" fill="#000"/>
<circle cx="632.9" cy="197.8" r="5" fill="#000"/>
<path d="M633.7 149.2 L640.4 156.2 L646.8 149.2 L640.6 168.3 Z" fill="#ff8c00" stroke="#000" stroke-width="1" stroke-linejoin="miter"/>
<rect x="779.4" y="41.6" width="11.10" height="222.90" fill="url(#cb)" stroke="#000" stroke-width="1"/>
<text stroke="#fff" stroke-width="0.22"><tspan x="795.73" y="49.20" font-size="23.00">1.0</tspan></text>
<text stroke="#fff" stroke-width="0.22"><tspan x="795.73" y="161.70" font-size="23.00">0.5</tspan></text>
<text stroke="#fff" stroke-width="0.22"><tspan x="795.73" y="273.00" font-size="23.00">0.0</tspan></text>
</g></svg>
</body></html>
